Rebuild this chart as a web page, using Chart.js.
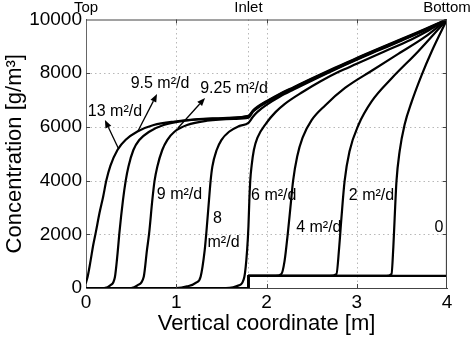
<!DOCTYPE html>
<html>
<head>
<meta charset="utf-8">
<script src="https://cdn.jsdelivr.net/npm/chart.js@4.4.1/dist/chart.umd.min.js"></script>
<style>
  html, body { margin: 0; padding: 0; background: #fff; }
  #c { display: block; }
</style>
</head>
<body>
<canvas id="c" width="474" height="337"></canvas>
<script>
// Axis ticks
const xTicks = [0, 1, 2, 3, 4];
const yTicks = [0, 2000, 4000, 6000, 8000, 10000];
const inletX = 1.8;
const feedBase = 450;

// Concentration profiles along the column, one per dispersion coefficient
const x13 = [0, 0.02, 0.05, 0.08, 0.11, 0.15, 0.19, 0.225, 0.27, 0.35, 0.44, 0.57, 0.75, 0.98, 1.3, 1.8, 1.85, 1.9, 2.0, 2.15, 2.3, 2.5, 2.75, 3.0, 3.25, 3.5, 3.75, 4.0];
const c13 = [200, 450, 1000, 1600, 2100, 2800, 3400, 4000, 4550, 5150, 5520, 5830, 6070, 6200, 6290, 6410, 6610, 6750, 6960, 7240, 7480, 7800, 8190, 8570, 8930, 9280, 9640, 10000];

const x95 = [0, 0.2, 0.27, 0.32, 0.35, 0.37, 0.41, 0.44, 0.47, 0.525, 0.59, 0.70, 0.86, 1.09, 1.4, 1.8, 1.85, 1.9, 2.0, 2.15, 2.3, 2.5, 2.75, 3.0, 3.25, 3.5, 3.75, 4.0];
const c95 = [0, 0, 100, 400, 1300, 2050, 3280, 4000, 4520, 5140, 5510, 5820, 6070, 6230, 6320, 6390, 6590, 6730, 6940, 7220, 7460, 7780, 8170, 8550, 8910, 9260, 9620, 10000];

const x925 = [0, 0.5, 0.57, 0.64, 0.675, 0.70, 0.735, 0.76, 0.79, 0.845, 0.90, 0.98, 1.12, 1.34, 1.64, 1.8, 1.85, 1.9, 2.0, 2.15, 2.3, 2.5, 2.75, 3.0, 3.25, 3.5, 3.75, 4.0];
const c925 = [0, 0, 100, 420, 1400, 2050, 3280, 4000, 4520, 5140, 5510, 5820, 6070, 6230, 6300, 6340, 6560, 6700, 6910, 7190, 7430, 7750, 8140, 8520, 8880, 9240, 9600, 10000];

const x9 = [0, 1.0, 1.12, 1.22, 1.27, 1.315, 1.333, 1.363, 1.381, 1.40, 1.448, 1.50, 1.585, 1.695, 1.8, 1.85, 1.9, 2.0, 2.15, 2.3, 2.5, 2.75, 3.0, 3.25, 3.5, 3.75, 4.0];
const c9 = [0, 0, 60, 200, 420, 1400, 2040, 3280, 4000, 4520, 5140, 5510, 5820, 6030, 6150, 6380, 6560, 6820, 7130, 7390, 7720, 8120, 8500, 8860, 9220, 9590, 10000];

const x8 = [0, 1.55, 1.695, 1.755, 1.785, 1.80, 1.81, 1.82, 1.835, 1.86, 1.9, 2.0, 2.1, 2.2, 2.4, 2.6, 2.8, 3.0, 3.3, 3.6, 3.8, 4.0];
const c8 = [0, 0, 100, 420, 1400, 2300, 3280, 4000, 4550, 5140, 5600, 6150, 6550, 6850, 7300, 7700, 8050, 8350, 8800, 9250, 9600, 10000];

const x6 = [0, 1.8, 1.8, 2.1, 2.165, 2.2, 2.235, 2.265, 2.295, 2.34, 2.40, 2.5, 2.65, 2.87, 3.17, 3.46, 3.76, 4.0];
const c6 = [0, 0, 450, 450, 520, 1000, 2000, 3000, 4000, 4900, 5600, 6250, 6800, 7450, 8100, 8720, 9360, 10000];

const x4 = [0, 1.8, 1.8, 2.7, 2.775, 2.805, 2.83, 2.865, 2.92, 3.02, 3.165, 3.39, 3.68, 4.0];
const c4 = [0, 0, 450, 450, 520, 1500, 2600, 3970, 5090, 6080, 6950, 7820, 8810, 10000];

const x2 = [0, 1.8, 1.8, 3.33, 3.385, 3.405, 3.42, 3.44, 3.475, 3.53, 3.61, 3.72, 3.83, 4.0];
const c2 = [0, 0, 450, 450, 520, 1500, 2600, 3970, 5090, 6080, 6950, 7940, 8810, 10000];

const x0 = [0, 1.8, 1.8, 4.0, 4.0];
const c0 = [0, 0, 450, 450, 10000];

const profileX = [x13, x95, x925, x9, x8, x6, x4, x2, x0];
const profileC = [c13, c95, c925, c9, c8, c6, c4, c2, c0];

// Curve labels (text and anchor in data units)
const labelTexts = ['13 m²/d', '9.5 m²/d', '9.25 m²/d', '9 m²/d', '8', 'm²/d', '6 m²/d', '4 m²/d', '2 m²/d', '0'];
const labelX = [0.321, 0.82, 1.64, 1.036, 1.457, 1.524, 2.08, 2.58, 3.163, 3.91];
const labelC = [6573, 7616, 7410, 3463, 2570, 1694, 3426, 2253, 3426, 2253];

// Leader arrows: tail on the curve, head next to the label
const arrowFromX = [0.358, 0.576, 1.019];
const arrowFromC = [5203, 5847, 5958];
const arrowToX = [0.21, 0.787, 1.319];
const arrowToC = [6257, 7225, 7076];

// Column position markers above the plot
const markerTexts = ['Top', 'Inlet', 'Bottom'];
const markerX = [0, inletX, 4];

const FONT = '"Liberation Sans", Arial, Helvetica, sans-serif';
const GRID = '#b8b8b8';
const GRID_DASH = [1.5, 3];

const datasets = profileX.map((xs, i) => ({
  data: xs.map((x, j) => ({ x: x, y: profileC[i][j] })),
  borderColor: '#000',
  borderWidth: 2.2,
  pointRadius: 0,
  showLine: true,
  fill: false,
  cubicInterpolationMode: 'monotone',
  borderJoinStyle: 'round',
  borderCapStyle: 'round'
}));

const framePlugin = {
  id: 'frame',
  beforeDatasetsDraw(chart) {
    const { ctx, chartArea: a, scales: { x, y } } = chart;
    ctx.save();
    ctx.strokeStyle = GRID;
    ctx.lineWidth = 1;
    ctx.setLineDash(GRID_DASH);
    // dotted grid
    ctx.beginPath();
    xTicks.slice(1, -1).forEach(v => {
      const px = Math.round(x.getPixelForValue(v)) + 0.5;
      ctx.moveTo(px, a.top); ctx.lineTo(px, a.bottom);
    });
    yTicks.slice(1, -1).forEach(v => {
      const py = Math.round(y.getPixelForValue(v)) + 0.5;
      ctx.moveTo(a.left, py); ctx.lineTo(a.right, py);
    });
    // dotted marker at the inlet
    const xi = Math.round(x.getPixelForValue(inletX)) + 0.5;
    ctx.moveTo(xi, a.top);
    ctx.lineTo(xi, y.getPixelForValue(feedBase));
    ctx.stroke();
    ctx.restore();
  },
  afterDatasetsDraw(chart) {
    const { ctx, chartArea: a, scales: { x, y } } = chart;
    ctx.save();
    ctx.strokeStyle = '#444';
    ctx.lineWidth = 1;
    // top and right edges of the box
    ctx.beginPath();
    ctx.moveTo(a.left, a.top + 0.5);
    ctx.lineTo(a.right, a.top + 0.5);
    ctx.moveTo(a.right - 0.5, a.top);
    ctx.lineTo(a.right - 0.5, a.bottom);
    ctx.stroke();
    // inward tick marks
    const tl = 4;
    ctx.beginPath();
    xTicks.slice(1, -1).forEach(v => {
      const px = Math.round(x.getPixelForValue(v)) + 0.5;
      ctx.moveTo(px, a.bottom); ctx.lineTo(px, a.bottom - tl);
      ctx.moveTo(px, a.top); ctx.lineTo(px, a.top + tl);
    });
    yTicks.slice(1, -1).forEach(v => {
      const py = Math.round(y.getPixelForValue(v)) + 0.5;
      ctx.moveTo(a.left, py); ctx.lineTo(a.left + tl, py);
      ctx.moveTo(a.right, py); ctx.lineTo(a.right - tl, py);
    });
    ctx.stroke();

    // curve labels
    ctx.fillStyle = '#000';
    ctx.font = '16px ' + FONT;
    ctx.textAlign = 'center';
    ctx.textBaseline = 'middle';
    labelTexts.forEach((t, i) => {
      ctx.fillText(t, x.getPixelForValue(labelX[i]), y.getPixelForValue(labelC[i]));
    });

    // leader arrows
    ctx.strokeStyle = '#000';
    ctx.lineWidth = 1.3;
    arrowFromX.forEach((fx, i) => {
      const x1 = x.getPixelForValue(fx), y1 = y.getPixelForValue(arrowFromC[i]);
      const x2 = x.getPixelForValue(arrowToX[i]), y2 = y.getPixelForValue(arrowToC[i]);
      const ang = Math.atan2(y2 - y1, x2 - x1);
      const hl = 8, hw = 3.2;
      const bx = x2 - hl * Math.cos(ang), by = y2 - hl * Math.sin(ang);
      ctx.beginPath();
      ctx.moveTo(x1, y1);
      ctx.lineTo(bx, by);
      ctx.stroke();
      ctx.beginPath();
      ctx.moveTo(x2, y2);
      ctx.lineTo(bx + hw * Math.sin(ang), by - hw * Math.cos(ang));
      ctx.lineTo(bx - hw * Math.sin(ang), by + hw * Math.cos(ang));
      ctx.closePath();
      ctx.fill();
    });

    // column position markers
    ctx.font = '15px ' + FONT;
    ctx.textBaseline = 'alphabetic';
    markerTexts.forEach((t, i) => {
      ctx.fillText(t, x.getPixelForValue(markerX[i]), 11.5);
    });
    ctx.restore();
  }
};

Chart.defaults.font.family = FONT;
Chart.defaults.color = '#000';

new Chart(document.getElementById('c'), {
  type: 'scatter',
  data: { datasets },
  plugins: [framePlugin],
  options: {
    responsive: false,
    animation: false,
    devicePixelRatio: 1,
    layout: { padding: { top: 19.5, right: 27, bottom: 0, left: 0 } },
    plugins: { legend: { display: false }, tooltip: { enabled: false } },
    scales: {
      x: {
        type: 'linear',
        min: 0, max: 4,
        afterBuildTicks: s => { s.ticks = xTicks.map(v => ({ value: v })); },
        afterFit: s => { s.height = 49; },
        ticks: { font: { size: 19 }, color: '#000', padding: 3, callback: v => String(v) },
        grid: { display: false, drawTicks: false },
        border: { display: true, color: '#444', width: 1 },
        title: { display: true, text: 'Vertical coordinate [m]', font: { size: 22 }, color: '#000', padding: 0 }
      },
      y: {
        type: 'linear',
        min: 0, max: 10000,
        afterBuildTicks: s => { s.ticks = yTicks.map(v => ({ value: v })); },
        afterFit: s => { s.width = 86; },
        ticks: { font: { size: 19 }, color: '#000', padding: 4, callback: v => String(v) },
        grid: { display: false, drawTicks: false },
        border: { display: true, color: '#666', width: 1 },
        title: { display: true, text: 'Concentration [g/m³]', font: { size: 22 }, color: '#000', padding: { top: 2, bottom: 0 } }
      }
    }
  }
});
</script>
</body>
</html>
